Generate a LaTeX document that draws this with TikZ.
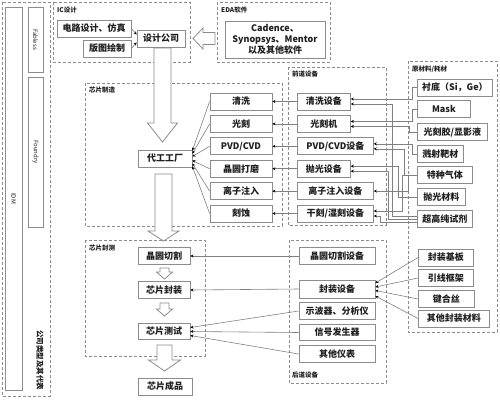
\documentclass[tikz,border=0pt]{standalone}
\usepackage{fontspec}
\setmainfont{Noto Sans CJK SC}
\usetikzlibrary{arrows.meta,calc}
\definecolor{boxgray}{gray}{0.55}
\definecolor{dashgray}{gray}{0.55}
\definecolor{linegray}{gray}{0.5}
\definecolor{txt}{gray}{0.12}
\tikzset{
 bx/.style={draw=boxgray, line width=0.8pt, fill=white, inner sep=0pt, font=\fontsize{9}{10.5}\selectfont\bfseries, text=txt, minimum height=17pt},
 grp/.style={draw=dashgray, line width=0.7pt, dash pattern=on 3pt off 2pt},
 lbl/.style={font=\fontsize{6.5}{7}\selectfont\bfseries, anchor=west, inner sep=0pt, text=txt},
 vtxt/.style={font=\fontsize{6}{7}\selectfont, text=txt},
 conn/.style={draw=linegray, line width=0.6pt, -{Stealth[length=3pt,width=3pt,black]}},
 hollow/.style={draw=boxgray, line width=0.8pt, fill=white, line join=miter},
}
\newcommand{\hdown}[6]{% cx, top, headstart, tip, shafthalf, headhalf
 \draw[hollow] ({#1-#5},#2) -- ({#1+#5},#2) -- ({#1+#5},#3) -- ({#1+#6},#3) -- (#1,#4) -- ({#1-#6},#3) -- ({#1-#5},#3) -- cycle;}
\begin{document}
\begin{tikzpicture}[x=1pt,y=-1pt]
\useasboundingbox (0,0) rectangle (500,400);
% left column
\draw[grp] (2,2) rectangle (50,396);
\node[bx, rotate=-90, minimum width=383pt, minimum height=17pt, font=\fontsize{6}{7}\selectfont] (idm) at (13.5,198.5) {IDM};
\node[bx, rotate=-90, minimum width=65pt, minimum height=15pt, font=\fontsize{6}{7}\selectfont] (fabless) at (35.5,39.5) {Fabless};
\node[bx, rotate=-90, minimum width=150pt, minimum height=15pt, font=\fontsize{6}{7}\selectfont] (foundry) at (35.5,152) {Foundry};
\node[vtxt, rotate=-90, font=\fontsize{7.5}{8}\selectfont\bfseries] (gslx) at (40,360) {公司类型及其代表};
% IC design
\draw[grp] (53,2) rectangle (190,62);
\node[lbl] (iclbl) at (57,10) {IC设计};
\node[bx, minimum width=74pt] (dl) at (94,28.5) {电路设计、仿真};
\node[bx, minimum width=48pt] (bt) at (107,48.5) {版图绘制};
\node[bx, minimum width=48pt] (sjgs) at (161,38.5) {设计公司};
\draw[conn] (dl.east) -- ($(sjgs.west)+(0,-4)$);
\draw[conn] (bt.east) -- ($(sjgs.west)+(0,4)$);
% EDA
\draw[grp] (217,2) rectangle (330,62);
\node[lbl] (edalbl) at (221,10) {EDA软件};
\node[bx, minimum width=100pt, minimum height=37pt, align=center, font=\fontsize{9}{11}\selectfont\bfseries] (eda) at (275,39.5) {Cadence、\\Synopsys、Mentor\\以及其他软件};
\draw[hollow] (193,38.5) -- (203,28) -- (203,32.5) -- (215,32.5) -- (215,44.5) -- (203,44.5) -- (203,49) -- cycle;
% chip manufacturing
\draw[grp] (85,83) rectangle (282,226);
\node[lbl] (zzlbl) at (89,90) {芯片制造};
\hdown{162.5}{48}{123}{142}{8.5}{15}
\node[bx, minimum width=54pt] (dggc) at (165,158.5) {代工工厂};
\hdown{163.5}{174}{231}{241}{8.5}{15.5}
\node[bx, minimum width=62pt] (p1) at (241,101.5) {清洗};
\node[bx, minimum width=62pt] (p2) at (241,123.9) {光刻};
\node[bx, minimum width=62pt] (p3) at (241,146.3) {PVD/CVD};
\node[bx, minimum width=62pt] (p4) at (241,168.7) {晶圆打磨};
\node[bx, minimum width=62pt] (p5) at (241,191.1) {离子注入};
\node[bx, minimum width=62pt] (p6) at (241,213.5) {刻蚀};
\draw[conn] (p1.west) -- ($(dggc.east)+(0,-8)$);
\draw[conn] (p2.west) -- ($(dggc.east)+(0,-5)$);
\draw[conn] (p3.west) -- ($(dggc.east)+(0,-2)$);
\draw[conn] (p4.west) -- ($(dggc.east)+(0,2)$);
\draw[conn] (p5.west) -- ($(dggc.east)+(0,5)$);
\draw[conn] (p6.west) -- ($(dggc.east)+(0,8)$);
% front-end equipment
\draw[grp] (288,67) rectangle (386,225);
\node[lbl] (qdlbl) at (292,74) {前道设备};
\node[bx, minimum width=53pt, anchor=west] (e1) at (297,101.5) {清洗设备};
\node[bx, minimum width=53pt, anchor=west] (e2) at (297,123.9) {光刻机};
\node[bx, minimum width=76pt, anchor=west] (e3) at (297,146.3) {PVD/CVD设备};
\node[bx, minimum width=53pt, anchor=west] (e4) at (297,168.7) {抛光设备};
\node[bx, minimum width=76pt, anchor=west] (e5) at (297,191.1) {离子注入设备};
\node[bx, minimum width=76pt, anchor=west] (e6) at (297,213.5) {干刻/湿刻设备};
\draw[conn] (e1.west) -- (p1.east);
\draw[conn] (e2.west) -- (p2.east);
\draw[conn] (e3.west) -- (p3.east);
\draw[conn] (e4.west) -- (p4.east);
\draw[conn] (e5.west) -- (p5.east);
\draw[conn] (e6.west) -- (p6.east);
% materials
\draw[grp] (408,61) rectangle (497,332);
\node[lbl] (cllbl) at (412,69) {原材料/耗材};
\node[bx, minimum width=75pt, anchor=west] (m1) at (417,87.5) {衬底（Si，Ge）};
\node[bx, minimum width=53pt, anchor=west] (m2) at (417,109) {Mask};
\node[bx, minimum width=70pt, anchor=west] (m3) at (417,132) {光刻胶/显影液};
\node[bx, minimum width=46pt, anchor=west] (m4) at (417,154) {溅射靶材};
\node[bx, minimum width=55pt, anchor=west] (m5) at (417,175) {特种气体};
\node[bx, minimum width=48pt, anchor=west] (m6) at (417,197) {抛光材料};
\node[bx, minimum width=55pt, anchor=west] (m7) at (417,219) {超高纯试剂};
\draw[conn] (m1.west) -- ++(-5,0) |- ($(e1.east)+(0,-2.5)$);
\draw[conn] ($(m7.west)+(0,-3)$) -- ++(-25,0) |- ($(e1.east)+(0,2.5)$);
\draw[conn] (m2.west) -- ++(-5,0) |- ($(e2.east)+(0,-2.5)$);
\draw[conn] (m3.west) -- ++(-8,0) |- ($(e2.east)+(0,2.5)$);
\draw[conn] (m4.west) -- ++(-5,0) |- ($(e3.east)+(0,-2.5)$);
\draw[conn] (m5.west) -- ++(-13,0) |- ($(e3.east)+(0,2.5)$);
\draw[conn] (m6.west) -- ++(-19,0) |- ($(e4.east)+(0,-2.5)$);
\draw[conn] ($(m7.west)+(0,0)$) -- ++(-29,0) |- ($(e4.east)+(0,2.5)$);
\draw[conn] (m5.west) -- ++(-9,0) |- (e5.east);
\draw[conn] (m5.west) -- ++(-15,0) |- ($(e6.east)+(0,-2.5)$);
\draw[conn] ($(m7.west)+(0,3)$) -- ++(-37,0) |- ($(e6.east)+(0,2.5)$);
% packaging & testing
\draw[grp] (85,240) rectangle (205,356);
\node[lbl] (fclbl) at (89,248) {芯片封测};
\node[bx, minimum width=52pt, minimum height=16.5pt] (jyqg) at (164,256) {晶圆切割};
\node[bx, minimum width=52pt, minimum height=16.5pt] (xpfz) at (164,290) {芯片封装};
\node[bx, minimum width=52pt, minimum height=16.5pt] (xpcs) at (164,331.5) {芯片测试};
\node[bx, minimum width=54pt] (xpcp) at (165,386.5) {芯片成品};
\hdown{164.5}{268}{272}{279}{4.5}{8}
\hdown{164.5}{303}{309}{316}{4.5}{8}
\hdown{164.5}{345}{360}{371}{7.5}{16}
% back-end equipment
\draw[grp] (289,240) rectangle (386,383);
\node[lbl] (hdlbl) at (292,375) {后道设备};
\node[bx, minimum width=76pt, minimum height=16.5pt] (b1) at (337,256) {晶圆切割设备};
\node[bx, minimum width=76pt, minimum height=18pt] (b2) at (337,289) {封装设备};
\node[bx, minimum width=76pt, minimum height=16.5pt] (b3) at (337,311) {示波器、分析仪};
\node[bx, minimum width=76pt, minimum height=16.5pt] (b4) at (337,332.5) {信号发生器};
\node[bx, minimum width=76pt, minimum height=16.5pt] (b5) at (337,354) {其他仪表};
\draw[conn] (b1.west) -- (jyqg.east);
\draw[conn] (b2.west) -- (xpfz.east);
\draw[conn] (b3.west) -- ($(xpcs.east)+(0,-4)$);
\draw[conn] (b4.west) -- ($(xpcs.east)+(0,0)$);
\draw[conn] (b5.west) -- ($(xpcs.east)+(0,4)$);
% packaging materials
\node[bx, minimum width=55pt, anchor=west] (k1) at (418,257.5) {封装基板};
\node[bx, minimum width=55pt, anchor=west] (k2) at (418,278) {引线框架};
\node[bx, minimum width=56pt, anchor=west] (k3) at (418,299) {键合丝};
\node[bx, minimum width=71pt, anchor=west] (k4) at (418,318.5) {其他封装材料};
\draw[conn] (k1.west) -- ($(b2.east)+(0,-6)$);
\draw[conn] (k2.west) -- ($(b2.east)+(0,-2)$);
\draw[conn] (k3.west) -- ($(b2.east)+(0,1.5)$);
\draw[conn] (k4.west) -- ($(b2.east)+(0,7)$);
\end{tikzpicture}
\end{document}
